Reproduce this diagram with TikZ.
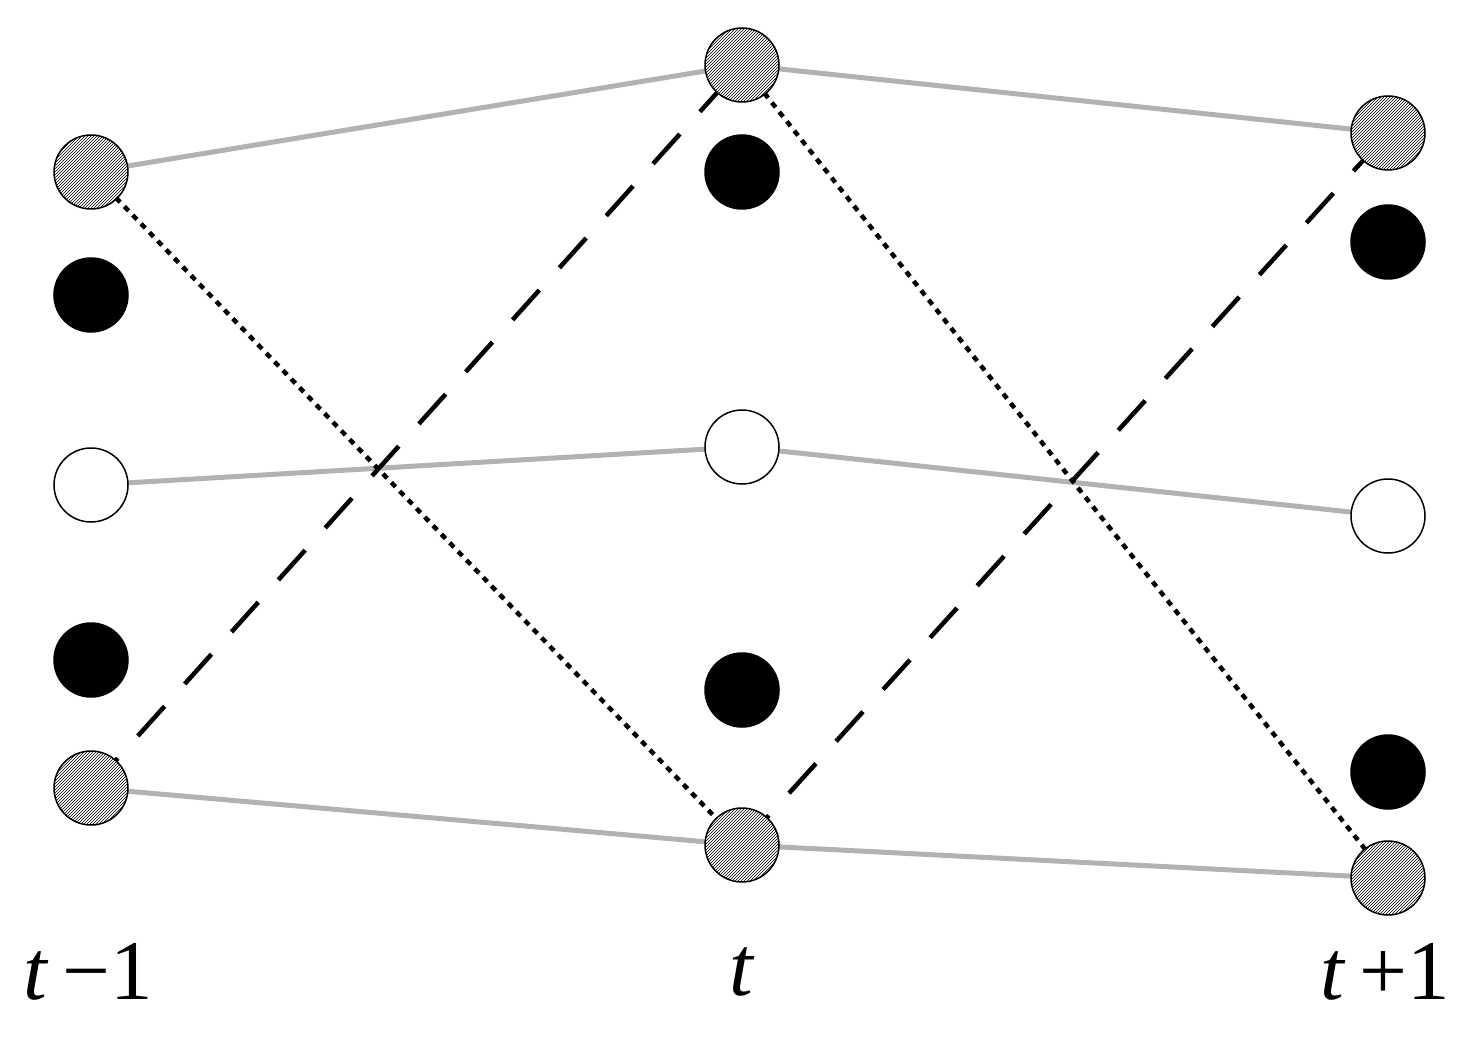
\documentclass[tikz,border=0pt]{standalone}
\usepackage{fontspec}
\setmainfont{Liberation Serif}
\usetikzlibrary{patterns}
\begin{document}
\begin{tikzpicture}[x=1pt,y=-1pt,
  dot/.style={circle,minimum size=74pt,inner sep=0pt,draw=black,line width=1.5pt},
  hat/.style={dot,preaction={fill=white},pattern=north east lines},
  blk/.style={dot,fill=black},
  wht/.style={dot,fill=white},
  gl/.style={draw=black!30,line width=5pt},
  dl/.style={line width=4.5pt,dash pattern=on 6pt off 6pt},
  ll/.style={line width=4.5pt,dash pattern=on 40pt off 30pt},
  lab/.style={font=\fontsize{85}{85}\selectfont}]
\useasboundingbox (0,0) rectangle (1471,1040);
\coordinate (a1) at (91,172); \coordinate (a2) at (91,295); \coordinate (a3) at (91,485); \coordinate (a4) at (91,660); \coordinate (a5) at (91,788);
\coordinate (b1) at (742,65); \coordinate (b2) at (742,172); \coordinate (b3) at (742,447); \coordinate (b4) at (742,690); \coordinate (b5) at (742,845);
\coordinate (c1) at (1388,133); \coordinate (c2) at (1388,242); \coordinate (c3) at (1388,516); \coordinate (c4) at (1388,772); \coordinate (c5) at (1388,878);
\draw[gl] (a1) -- (b1) -- (c1);
\draw[gl] (a3) -- (b3) -- (c3);
\draw[gl] (a5) -- (b5) -- (c5);
\draw[dl] (a1) -- (b5);
\draw[dl] (b1) -- (c5);
\draw[ll] (a5) -- (b1);
\draw[ll] (b5) -- (c1);
\node[hat] (A1) at (a1) {}; \node[blk] (A2) at (a2) {}; \node[wht] (A3) at (a3) {}; \node[blk] (A4) at (a4) {}; \node[hat] (A5) at (a5) {};
\node[hat] (B1) at (b1) {}; \node[blk] (B2) at (b2) {}; \node[wht] (B3) at (b3) {}; \node[blk] (B4) at (b4) {}; \node[hat] (B5) at (b5) {};
\node[hat] (C1) at (c1) {}; \node[blk] (C2) at (c2) {}; \node[wht] (C3) at (c3) {}; \node[blk] (C4) at (c4) {}; \node[hat] (C5) at (c5) {};
\node[lab] (L1) at (88,972) {\textit{t}\,−1};
\node[lab] (L2) at (742,972) {\textit{t}};
\node[lab] (L3) at (1385,972) {\textit{t}\,+1};
\end{tikzpicture}
\end{document}
